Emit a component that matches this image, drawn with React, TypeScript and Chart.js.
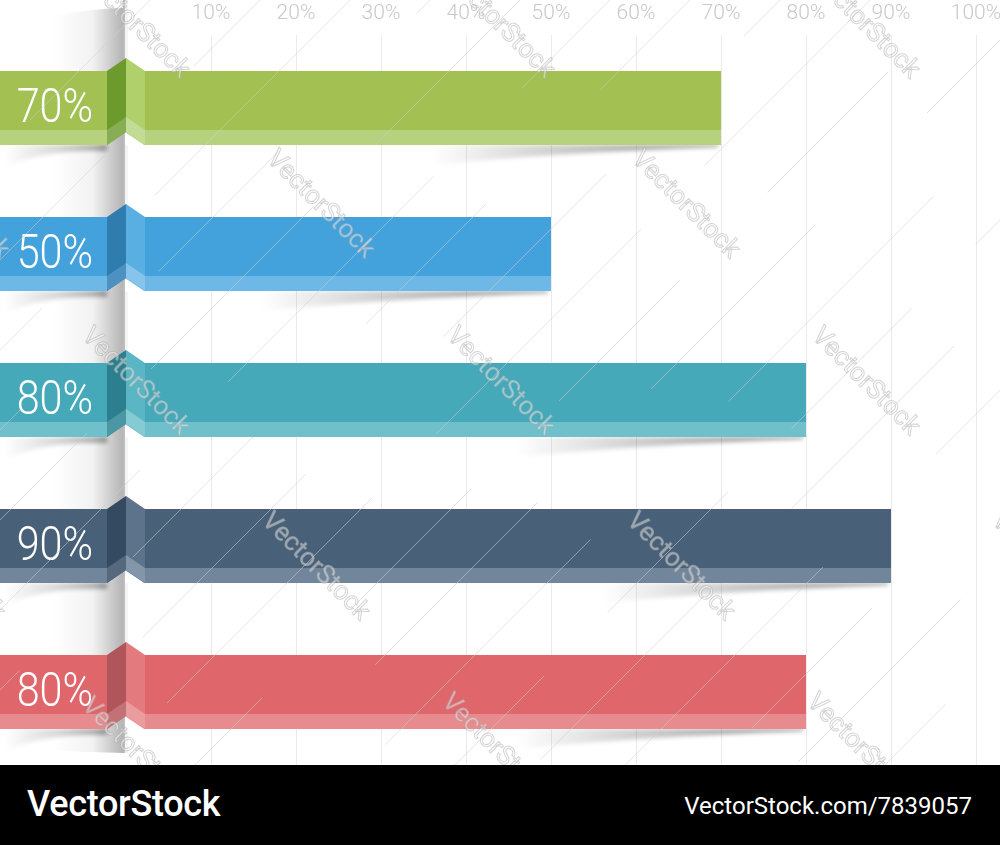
import { useEffect, useRef } from "react";
import { Chart, registerables } from "chart.js";

Chart.register(...registerables);

// ---- data ----
const categories = ["Item 1", "Item 2", "Item 3", "Item 4", "Item 5"];
const values = [70, 50, 80, 90, 80];
const tickValues = [10, 20, 30, 40, 50, 60, 70, 80, 90, 100];
const barLabels = values.map((v) => `${v}%`);

// ---- palette ----
const mainColors = ["#a2c152", "#43a2dc", "#45a9ba", "#486179", "#df666b"];
const stripColors = ["#b6d27e", "#6db8e6", "#70c0cc", "#71869b", "#e78b8e"];
const darkColors = ["#6d9a2d", "#2f7cae", "#2b7f8f", "#334a60", "#b0565a"];
const darkStripColors = ["#87ad55", "#4d91c0", "#4c97a4", "#55687c", "#c27276"];
const lightColors = ["#b0d06c", "#5aafe2", "#5ab6c4", "#5c738b", "#e27a7e"];
const lightStripColors = ["#c3dc95", "#86c4ec", "#86cad4", "#8395a8", "#ea9c9f"];

const WATERMARKS: [number, number][] = [
  [135, 25], [500, 25], [865, 25],
  [-45, 205], [320, 205], [685, 205], [1050, 205],
  [135, 382], [500, 382], [865, 382],
  [-50, 567], [315, 567], [680, 567], [1045, 567],
  [135, 752], [495, 748], [860, 748],
];
// watermark hairlines: x + y = c, drawn dashed
const HAIRLINES = [150, 260, 350, 430, 520, 610, 690, 780, 870, 960, 1040, 1130, 1220, 1300, 1390, 1480, 1560, 1650, 1740];

const decorPlugin = {
  id: "decor",
  beforeDatasetsDraw(chart: any) {
    const ctx: CanvasRenderingContext2D = chart.ctx;
    const xs = chart.scales.x;
    const area = chart.chartArea;
    const F = xs.getPixelForValue(0);
    // page fold shading
    ctx.save();
    const g = ctx.createLinearGradient(F - 72, 0, F - 2, 0);
    g.addColorStop(0, "rgba(0,0,0,0)");
    g.addColorStop(0.55, "rgba(0,0,0,0.05)");
    g.addColorStop(1, "rgba(0,0,0,0.30)");
    ctx.fillStyle = g;
    ctx.beginPath();
    ctx.moveTo(F - 72, 16);
    ctx.quadraticCurveTo(F - 30, 8, F - 2, 8);
    ctx.lineTo(F - 2, area.bottom - 12);
    ctx.lineTo(F - 72, area.bottom - 14);
    ctx.closePath();
    ctx.fill();
    ctx.fillStyle = "#bdbdbd";
    ctx.fillRect(F - 3, 0, 2, area.bottom - 12);
    ctx.fillStyle = "#f4f4f4";
    ctx.fillRect(F - 1, 0, 3, area.bottom - 12);
    ctx.restore();

    // shadows under bars
    const meta = chart.getDatasetMeta(0);
    meta.data.forEach((el: any) => {
      const { x: end, y: cy, height: h } = el.getProps(["x", "y", "height"], true);
      const B = cy + h / 2;
      const w = 19;
      ctx.save();
      ctx.filter = "blur(2px)";
      // tab shadow
      const gt = ctx.createLinearGradient(5, 0, F - w, 0);
      gt.addColorStop(0, "rgba(0,0,0,0)");
      gt.addColorStop(0.6, "rgba(0,0,0,0.18)");
      gt.addColorStop(1, "rgba(0,0,0,0.35)");
      ctx.fillStyle = gt;
      ctx.beginPath();
      ctx.moveTo(5, B);
      ctx.lineTo(F - w, B);
      ctx.lineTo(F - w, B + 6);
      ctx.quadraticCurveTo(45, B + 4, 5, B + 22);
      ctx.closePath();
      ctx.fill();
      // right shadow
      const L = 290;
      const gr = ctx.createLinearGradient(end - L, 0, end, 0);
      gr.addColorStop(0, "rgba(0,0,0,0)");
      gr.addColorStop(0.45, "rgba(0,0,0,0.2)");
      gr.addColorStop(1, "rgba(0,0,0,0.45)");
      ctx.fillStyle = gr;
      ctx.beginPath();
      ctx.moveTo(end - L, B);
      ctx.lineTo(end - 3, B);
      ctx.lineTo(end - 3, B + 2);
      ctx.quadraticCurveTo(end - 170, B + 8, end - L, B + 20);
      ctx.closePath();
      ctx.fill();
      ctx.restore();
    });
  },
  afterDatasetsDraw(chart: any) {
    const ctx: CanvasRenderingContext2D = chart.ctx;
    const xs = chart.scales.x;
    const F = xs.getPixelForValue(0);
    const meta = chart.getDatasetMeta(0);
    meta.data.forEach((el: any, i: number) => {
      const { x: end, y: cy, height: h } = el.getProps(["x", "y", "height"], true);
      const T = cy - h / 2;
      const B = cy + h / 2;
      const S = Math.round(h * 0.2);
      const d = 13;
      const w = 19;
      ctx.save();
      // bottom strip
      ctx.fillStyle = stripColors[i];
      ctx.fillRect(F, B - S, end - F, S);
      // clear under light fold
      ctx.fillStyle = "#ffffff";
      ctx.beginPath();
      ctx.moveTo(F - 1, B - d);
      ctx.lineTo(F + w, B + 0.5);
      ctx.lineTo(F - 1, B + 0.5);
      ctx.closePath();
      ctx.fill();
      // left tab
      ctx.fillStyle = mainColors[i];
      ctx.fillRect(0, T, F - w, h - S);
      ctx.fillStyle = stripColors[i];
      ctx.fillRect(0, B - S, F - w, S);
      const poly = (pts: number[][], color: string) => {
        ctx.fillStyle = color;
        ctx.beginPath();
        ctx.moveTo(pts[0][0], pts[0][1]);
        for (let k = 1; k < pts.length; k++) ctx.lineTo(pts[k][0], pts[k][1]);
        ctx.closePath();
        ctx.fill();
      };
      poly([[F - w, T], [F, T - d], [F, B - d], [F - w, B]], darkColors[i]);
      poly([[F - w, B - S], [F, B - S - d], [F, B - d], [F - w, B]], darkStripColors[i]);
      poly([[F, T - d], [F + w, T], [F + w, B], [F, B - d]], lightColors[i]);
      poly([[F, B - S - d], [F + w, B - S], [F + w, B], [F, B - d]], lightStripColors[i]);
      // label
      ctx.translate(F - w - 14, T + 51);
      ctx.scale(0.86, 1);
      ctx.font = "300 48px Roboto";
      ctx.textAlign = "right";
      ctx.textBaseline = "alphabetic";
      ctx.fillStyle = "#ffffff";
      ctx.fillText(barLabels[i], 0, 0);
      ctx.restore();
    });
  },
  afterDraw(chart: any) {
    const ctx: CanvasRenderingContext2D = chart.ctx;
    // faint diagonal hairlines
    ctx.save();
    ctx.strokeStyle = "rgba(205,205,205,0.55)";
    ctx.lineWidth = 1;
    HAIRLINES.forEach((c, k) => {
      ctx.setLineDash([170 + (k % 3) * 60, 90 + (k % 4) * 35]);
      ctx.lineDashOffset = (k * 137) % 260;
      ctx.beginPath();
      ctx.moveTo(c, 0);
      ctx.lineTo(c - 800, 800);
      ctx.stroke();
    });
    ctx.restore();

    ctx.save();
    ctx.font = "400 26px Roboto";
    ctx.textAlign = "center";
    ctx.textBaseline = "middle";
    ctx.lineWidth = 1;
    WATERMARKS.forEach(([x, y]) => {
      ctx.save();
      ctx.translate(x, y);
      ctx.rotate(Math.PI / 4);
      ctx.fillStyle = "rgba(255,255,255,0.45)";
      ctx.fillText("VectorStock", 0, 0);
      ctx.strokeStyle = "rgba(160,160,160,0.45)";
      ctx.strokeText("VectorStock", 0, 0);
      ctx.restore();
    });
    ctx.restore();
  },
};

export default function App() {
  const canvasRef = useRef<HTMLCanvasElement | null>(null);

  useEffect(() => {
    document.body.style.margin = "0";
    const canvas = canvasRef.current;
    if (!canvas) return;
    const chart = new Chart(canvas, {
      type: "bar",
      data: {
        labels: categories,
        datasets: [
          {
            data: values,
            backgroundColor: mainColors,
            borderWidth: 0,
            categoryPercentage: 0.507,
            barPercentage: 1,
          },
        ],
      },
      options: {
        indexAxis: "y",
        responsive: false,
        maintainAspectRatio: false,
        animation: false,
        devicePixelRatio: 1,
        layout: { padding: { left: 126, right: 24, top: 0, bottom: 0 } },
        plugins: {
          legend: { display: false },
          tooltip: { enabled: false },
        },
        scales: {
          x: {
            type: "linear",
            position: "top",
            min: 0,
            max: 100,
            afterBuildTicks: (scale: any) => {
              scale.ticks = tickValues.map((v) => ({ value: v }));
            },
            afterFit: (scale: any) => {
              scale.height = 35;
              scale.paddingLeft = 0;
              scale.paddingRight = 0;
            },
            border: { display: false },
            grid: { color: "#ebebeb", lineWidth: 1, drawTicks: false },
            ticks: {
              color: "#c9c9c9",
              padding: 9,
              font: { family: "Roboto", size: 21, weight: "300" },
              callback: (v: any) => `${v}%`,
            },
          },
          y: {
            type: "category",
            display: false,
            grid: { display: false },
          },
        },
      },
      plugins: [decorPlugin],
    } as any);
    return () => chart.destroy();
  }, []);

  return (
    <div style={{ width: 1000, height: 845, position: "relative", background: "#fff", overflow: "hidden" }}>
      <canvas ref={canvasRef} width={1000} height={765} style={{ display: "block" }} />
      <div
        style={{
          position: "absolute",
          left: 0,
          top: 765,
          width: 1000,
          height: 80,
          background: "#000",
          color: "#fff",
          fontFamily: "Roboto, 'Liberation Sans', sans-serif",
        }}
      >
        <div style={{ position: "absolute", left: 27, top: 19, fontSize: 36, fontWeight: 500, letterSpacing: -0.3, lineHeight: "40px" }}>
          VectorStock
        </div>
        <div style={{ position: "absolute", right: 28, top: 27, fontSize: 24, fontWeight: 400, lineHeight: "28px" }}>
          VectorStock.com/7839057
        </div>
      </div>
    </div>
  );
}
